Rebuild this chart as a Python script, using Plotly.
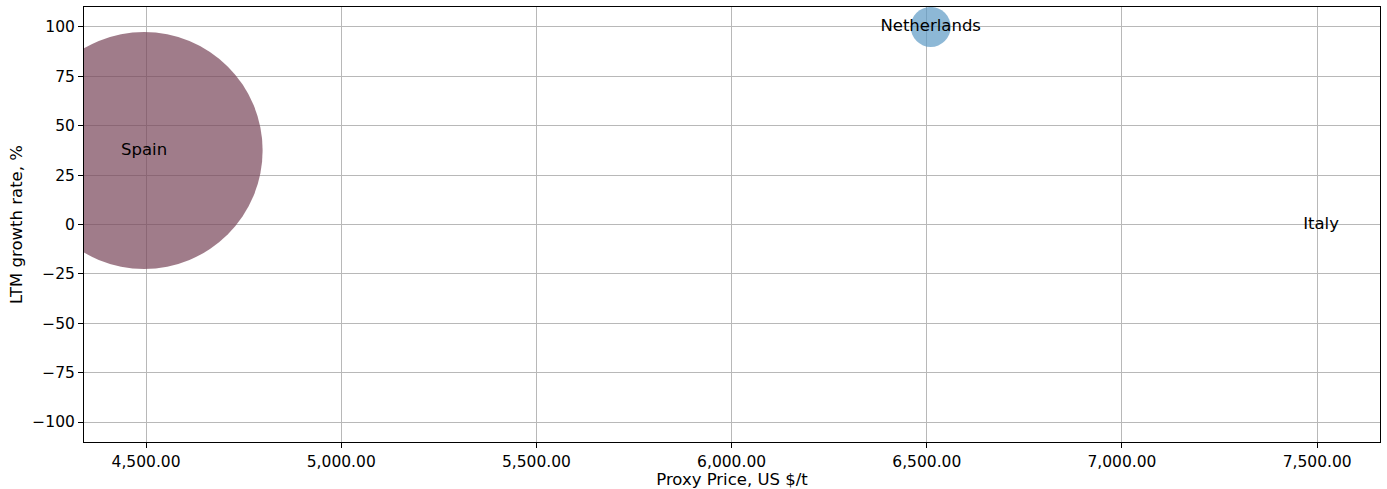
import plotly.graph_objects as go

countries = ["Spain", "Netherlands", "Italy"]
proxy_price = [4495, 6510, 7510]
growth_rate = [37.5, 100, 0]
bubble_diameter = [237, 40, 0]
colors = ["rgba(119,68,89,0.7)", "rgba(92,154,197,0.7)", "rgba(200,200,200,0)"]

x_ticks = [4500, 5000, 5500, 6000, 6500, 7000, 7500]
y_ticks = [-100, -75, -50, -25, 0, 25, 50, 75, 100]

fig = go.Figure()
fig.add_trace(go.Scatter(
    x=proxy_price, y=growth_rate, mode="markers+text",
    text=countries, textposition="middle center",
    textfont=dict(family="DejaVu Sans", size=16.5, color="black"),
    marker=dict(size=bubble_diameter, sizemode="diameter", color=colors,
                opacity=1, line=dict(width=0)),
    cliponaxis=True, showlegend=False, hoverinfo="skip",
))

axis_common = dict(
    showgrid=True, gridcolor="#b8b8b8", gridwidth=1,
    showline=True, linecolor="black", linewidth=1, mirror=True,
    ticks="outside", ticklen=5, tickcolor="black", tickwidth=1,
    zeroline=False, automargin=False,
    tickfont=dict(family="DejaVu Sans", size=15.5, color="black"),
    title_font=dict(family="DejaVu Sans", size=16.5, color="black"),
)

fig.update_xaxes(
    range=[4341, 7661], tickvals=x_ticks, tickformat=",.2f",
    title_text="Proxy Price, US $/t", title_standoff=4, **axis_common,
)
fig.update_yaxes(
    range=[-110.1, 110.1], tickvals=y_ticks,
    title_text="LTM growth rate, %", title_standoff=5, **axis_common,
)

fig.update_layout(
    width=1387, height=489,
    margin=dict(l=84, r=7, t=7, b=47),
    paper_bgcolor="white", plot_bgcolor="white",
    font=dict(family="DejaVu Sans"),
)

fig.write_html("out.html", config={"displayModeBar": False},
               post_script="document.body.style.margin='0px';")
